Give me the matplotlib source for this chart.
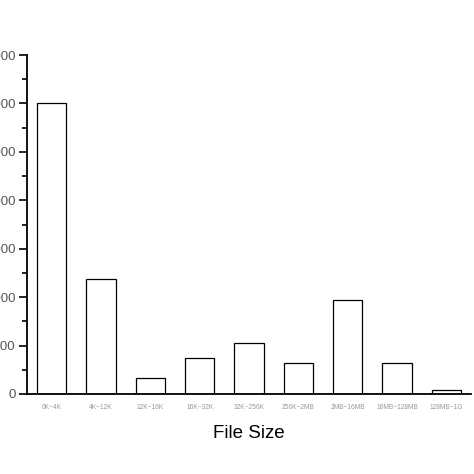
import numpy as np
import matplotlib
matplotlib.use("Agg")
import matplotlib.pyplot as plt

# data
sizes = ["0K~4K", "4K~12K", "12K~16K", "16K~32K", "32K~256K",
         "256K~2MB", "2MB~16MB", "16MB~128MB", "128MB~1G"]
counts = [6010, 2375, 330, 745, 1055, 640, 1940, 640, 85]

plt.rc('font', family=['Liberation Sans', 'DejaVu Sans'])
fig = plt.figure(figsize=(4.74, 4.74), dpi=100)
ax = fig.add_axes([27/474, 80/474, 444/474, 339/474])

x = np.arange(len(sizes))
ax.bar(x, counts, width=0.6, color="white", edgecolor="black", linewidth=0.9)

ax.set_xlim(-0.5, 8.5)
ax.set_ylim(0, 7000)
ax.set_yticks(np.arange(0, 7001, 1000))
ax.set_yticks(np.arange(500, 7000, 1000), minor=True)
ax.tick_params(axis='y', which='major', direction='out', length=6, width=1.2,
               labelsize=9.5, labelcolor='#555555', pad=2)
ax.tick_params(axis='y', which='minor', direction='out', length=3.5, width=1.2)
ax.set_xticks(x)
ax.set_xticklabels(sizes)
ax.tick_params(axis='x', length=0, labelsize=4.8, labelcolor='#999999', pad=7)

for s in ['top', 'right']:
    ax.spines[s].set_visible(False)
for s in ['left', 'bottom']:
    ax.spines[s].set_linewidth(1.3)

ax.set_xlabel("File Size", fontsize=13.5, labelpad=10)

plt.savefig('out.png', dpi=100)
